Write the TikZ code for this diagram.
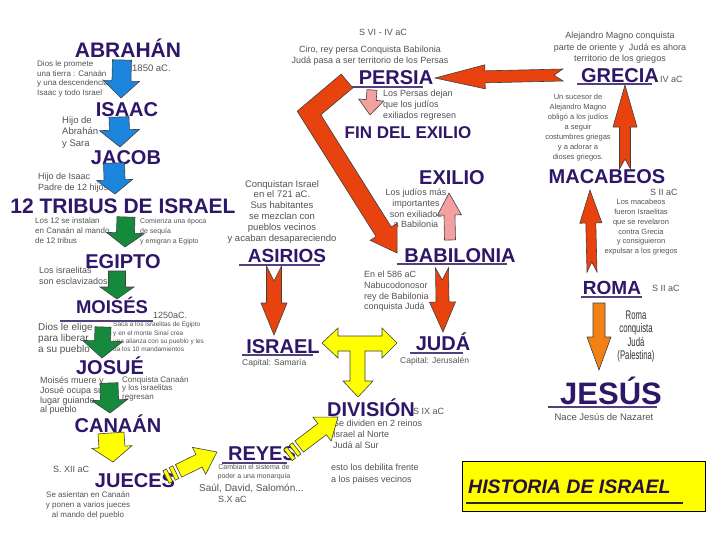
\documentclass[tikz,border=0pt]{standalone}
\usepackage{fontspec}
\setmainfont{Liberation Sans}
\usetikzlibrary{calc}

\definecolor{morado}{RGB}{46,22,104}
\definecolor{gris}{RGB}{82,82,82}
\definecolor{azul}{RGB}{28,134,222}
\definecolor{verde}{RGB}{22,138,60}
\definecolor{amarillo}{RGB}{255,255,0}
\definecolor{rojo}{RGB}{232,66,14}
\definecolor{rosa}{RGB}{245,160,160}
\definecolor{naranja}{RGB}{242,128,20}
\definecolor{linea}{RGB}{84,64,122}

% block arrow: [style]{from}{to}{half shaft}{half head}{head length}{notch}
\newcommand{\bloque}[7][]{%
  \coordinate (hb) at ($(#3)!#6pt!(#2)$);
  \draw[#1] ($(#2)!#4pt!90:(#3)$) -- ($(hb)!#4pt!90:(#3)$) -- ($(hb)!#5pt!90:(#3)$) -- (#3)
    -- ($(hb)!#5pt!-90:(#3)$) -- ($(hb)!#4pt!-90:(#3)$) -- ($(#2)!#4pt!-90:(#3)$)
    -- ($(#2)!#7pt!(#3)$) -- cycle;}
% striped block arrow
\newcommand{\rayada}[6][]{%
  \coordinate (t1) at ($(#2)!4pt!(#3)$);
  \coordinate (t2) at ($(#2)!7pt!(#3)$);
  \coordinate (t3) at ($(#2)!11pt!(#3)$);
  \coordinate (t4) at ($(#2)!14pt!(#3)$);
  \draw[#1] ($(#2)!#4pt!90:(#3)$) -- ($(t1)!#4pt!90:(#3)$) -- ($(t1)!#4pt!-90:(#3)$) -- ($(#2)!#4pt!-90:(#3)$) -- cycle;
  \draw[#1] ($(t2)!#4pt!90:(#3)$) -- ($(t3)!#4pt!90:(#3)$) -- ($(t3)!#4pt!-90:(#3)$) -- ($(t2)!#4pt!-90:(#3)$) -- cycle;
  \bloque[#1]{t4}{#3}{#4}{#5}{#6}{0}}

\tikzset{
  tema/.style={font=\fontsize{20}{24}\selectfont\bfseries, text=morado, inner sep=0pt, anchor=base},
  nota/.style={font=\fontsize{9}{10.8}\selectfont, text=gris, inner sep=0pt, align=left, anchor=north west},
  notac/.style={nota, align=center, anchor=north},
  ulin/.style={draw=linea, line width=1.1pt},
  flecha/.style={draw=black!75, line width=0.6pt, line join=miter},
}

\begin{document}
\begin{tikzpicture}[x=1pt,y=-1pt]
        \useasboundingbox (0,0) rectangle (728,546);
        % left column
        \node[tema, font=\fontsize{21}{24}\selectfont\bfseries] (abrahan) at (128,57) {ABRAHÁN};
        \node[nota, font=\fontsize{8}{9.4}\selectfont] (promesa) at (37,61) {Dios le promete\\una tierra : Canaán\\y una descendencia:\\Isaac y todo Israel};
        \node[nota, font=\fontsize{9.5}{11}\selectfont, anchor=base west] (f1850) at (132,71) {1850 aC.};
        \node[tema] (isaac) at (127,116) {ISAAC};
        \node[nota, font=\fontsize{9.5}{11.5}\selectfont] (hijo1) at (62,116) {Hijo de\\Abrahán\\y Sara};
        \node[tema] (jacob) at (126,164) {JACOB};
        \node[nota] (hijo2) at (38,173) {Hijo de Isaac\\Padre de 12 hijos};
        \node[tema, font=\fontsize{21}{24}\selectfont\bfseries] (tribus) at (123,213) {12 TRIBUS DE ISRAEL};
        \node[nota, font=\fontsize{8}{10}\selectfont] (instalan) at (35,218) {Los 12 se instalan\\en Canaán al mando\\de 12 tribus};
        \node[nota, font=\fontsize{7}{10}\selectfont] (sequia) at (140,218) {Comienza una época\\de sequía\\y emigran a Egipto};
        \node[tema] (egipto) at (123,268) {EGIPTO};
        \node[nota, font=\fontsize{9}{10.5}\selectfont] (esclavos) at (39,267) {Los israelitas\\son esclavizados};
        \node[tema, font=\fontsize{18.5}{22}\selectfont\bfseries] (moises) at (112,313) {MOISÉS};
        \node[nota, anchor=base west] (f1250) at (153,318) {1250aC.};
        \node[nota, font=\fontsize{10}{11}\selectfont] (elige) at (38,323) {Dios le elige\\para liberar\\a su pueblo};
        \node[nota, font=\fontsize{6.5}{8.3}\selectfont] (sinai) at (113,322) {Saca a los israelitas de Egipto\\y en el monte Sinaí crea\\una alianza con su pueblo y les\\da los 10 mandamientos};
        \node[tema] (josue) at (110,374) {JOSUÉ};
        \node[nota, font=\fontsize{9}{9.7}\selectfont] (muere) at (40,377) {Moisés muere y\\Josué ocupa su\\lugar guiando\\al pueblo};
        \node[nota, font=\fontsize{8}{8.8}\selectfont] (conquista) at (122,376) {Conquista Canaán\\y los israelitas\\regresan};
        \node[tema] (canaan) at (118,432) {CANAÁN};
        \node[nota, anchor=base west] (sxii) at (53,472) {S. XII aC};
        \node[tema] (jueces) at (135,487) {JUECES};
        \node[notac, font=\fontsize{8}{10}\selectfont] (asientan) at (88,491) {Se asientan en Canaán\\y ponen a varios jueces\\al mando del pueblo};

        % centre
        \node[tema] (reyes) at (262,460) {REYES};
        \node[notac, font=\fontsize{7}{9}\selectfont] (monarquia) at (254,464) {Cambian el sistema de\\poder a una monarquía};
        \node[nota, font=\fontsize{10}{12}\selectfont, anchor=base west] (saul) at (199,491) {Saúl, David, Salomón...};
        \node[nota, anchor=base west] (sx) at (218,502) {S.X aC};
        \node[tema] (division) at (371,416) {DIVISIÓN};
        \node[nota, anchor=base west] (six) at (413,414) {S IX aC};
        \node[nota, font=\fontsize{9}{11}\selectfont] (reinos) at (333,420) {Se dividen en 2 reinos\\Israel al Norte\\Judá al Sur};
        \node[nota, font=\fontsize{9}{12}\selectfont] (debilita) at (331,464) {esto los debilita frente\\a los paises vecinos};
        \node[tema] (israel) at (283,353) {ISRAEL};
        \node[nota, font=\fontsize{8.5}{10}\selectfont, anchor=base west] (samaria) at (242,365) {Capital: Samaría};
        \node[tema] (juda) at (443,350) {JUDÁ};
        \node[nota, font=\fontsize{8.5}{10}\selectfont, anchor=base west] (jerusalen) at (400,363) {Capital: Jerusalén};
        \node[notac, font=\fontsize{9.5}{10.8}\selectfont] (asirnota) at (282,180) {Conquistan Israel\\en el 721 aC.\\Sus habitantes\\se mezclan con\\pueblos vecinos\\y acaban desapareciendo};
        \node[tema, font=\fontsize{19}{22}\selectfont\bfseries] (asirios) at (287,262) {ASIRIOS};
        \node[tema] (babilonia) at (460,262) {BABILONIA};
        \node[nota, font=\fontsize{9}{10.7}\selectfont] (nabuco) at (364,271) {En el 586 aC\\Nabucodonosor\\rey de Babilonia\\conquista Judá};
        \node[tema] (exilio) at (452,184) {EXILIO};
        \node[notac, font=\fontsize{9}{10.7}\selectfont] (judios) at (416,189) {Los judíos más\\importantes\\son exiliados\\a Babilonia};
        \node[nota, anchor=base] (siglovi) at (383,35) {S VI - IV aC};
        \node[notac, font=\fontsize{9}{11}\selectfont] (ciro) at (370,46) {Ciro, rey persa Conquista Babilonia\\Judá pasa a ser territorio de los Persas};
        \node[tema] (persia) at (396,84) {PERSIA};
        \node[nota, font=\fontsize{9}{11}\selectfont] (dejan) at (383,90) {Los Persas dejan\\que los judíos\\exiliados regresen};
        \node[tema, font=\fontsize{17}{20}\selectfont\bfseries] (fin) at (408,138) {FIN DEL EXILIO};

        % right column
        \node[notac, font=\fontsize{9}{11.5}\selectfont] (alejandro) at (620,32) {Alejandro Magno conquista\\parte de oriente y \ Judá es ahora\\territorio de los griegos};
        \node[tema] (grecia) at (620,82) {GRECIA};
        \node[nota, anchor=base west] (iv) at (660,82) {IV aC};
        \node[notac, font=\fontsize{7.5}{10}\selectfont] (sucesor) at (578,94) {Un sucesor de\\Alejandro Magno\\obligó a los judíos\\a seguir\\costumbres griegas\\y a adorar a\\dioses griegos.};
        \node[tema] (macabeos) at (607,183) {MACABEOS};
        \node[nota, anchor=base west] (sii1) at (650,195) {S II aC};
        \node[notac, font=\fontsize{7.5}{9.8}\selectfont] (macnota) at (641,199) {Los macabeos\\fueron Israelitas\\que se revelaron\\contra Grecia\\y consiguieron\\expulsar a los griegos};
        \node[tema, font=\fontsize{19}{22}\selectfont\bfseries] (roma) at (612,294) {ROMA};
        \node[nota, anchor=base west] (sii2) at (652,291) {S II aC};
        \node[notac, text=gris!60!black] (romanota) at (636,310) {\scalebox{0.62}[1]{\fontsize{12.5}{13.3}\selectfont\begin{tabular}{@{}c@{}}Roma\\conquista\\Judá\\(Palestina)\end{tabular}}};
        \node[tema, font=\fontsize{31}{36}\selectfont\bfseries] (jesus) at (611,404) {JESÚS};
        \node[nota, font=\fontsize{9.5}{11}\selectfont, anchor=base] (nazaret) at (604,420) {Nace Jesús de Nazaret};

        % title
        \node[draw=black, line width=0.8pt, fill=amarillo, minimum width=243pt, minimum height=50pt, inner sep=0pt] (titulo) at (583.5,486) {};
        \node[anchor=base west, inner sep=0pt, font=\fontsize{19.5}{22}\selectfont\bfseries\itshape, text={rgb,255:red,40;green,16;blue,60}] (historia) at (468,493) {HISTORIA DE ISRAEL};
        \draw[line width=2pt, black!85] (466,503) -- (683,503);

        % underlines
        \draw[ulin] (60,321) -- (153,321);
        \draw[ulin] (222,463) -- (287,463);
        \draw[ulin] (242,355) -- (313,355);
        \draw[ulin] (239,265) -- (320,265);
        \draw[ulin] (397,264) -- (507,264);
        \draw[ulin] (410,353) -- (463,353);
        \draw[ulin] (350,87) -- (423,87);
        \draw[ulin] (577,84) -- (652,84);
        \draw[ulin] (581,297) -- (642,297);
        \draw[ulin] (548,407) -- (657,407);

        % arrow ends
        \coordinate (ab1) at (122,60);  \coordinate (ab2) at (121,98);
        \coordinate (is1) at (119,117); \coordinate (is2) at (120,147);
        \coordinate (ja1) at (114,163); \coordinate (ja2) at (115,194);
        \coordinate (tr1) at (126,217); \coordinate (tr2) at (125,247);
        \coordinate (eg1) at (117,271); \coordinate (eg2) at (117,299);
        \coordinate (mo1) at (103,327); \coordinate (mo2) at (102,358);
        \coordinate (jo1) at (109,383); \coordinate (jo2) at (110,413);
        \coordinate (ca1) at (111,433); \coordinate (ca2) at (113,462);
        \coordinate (ju1) at (166,477); \coordinate (ju2) at (217,452);
        \coordinate (re1) at (288,455); \coordinate (re2) at (338,417);
        \coordinate (as1) at (274,266); \coordinate (as2) at (274,335);
        \coordinate (ba1) at (442,268); \coordinate (ba2) at (443,332);
        \coordinate (ba3) at (450,240); \coordinate (ba4) at (449,193);
        \coordinate (pe1) at (372,90);  \coordinate (pe2) at (370,115);
        \coordinate (gr1) at (563,75);  \coordinate (gr2) at (435,78);
        \coordinate (ma1) at (625,169); \coordinate (ma2) at (625,85);
        \coordinate (ro1) at (592,272); \coordinate (ro2) at (590,190);
        \coordinate (ro3) at (599,303); \coordinate (ro4) at (599,370);

        % arrows
        \bloque[flecha, fill=azul]{ab1}{ab2}{9.5}{18}{17}{0}
        \bloque[flecha, fill=azul]{is1}{is2}{10}{20}{17}{0}
        \bloque[flecha, fill=azul]{ja1}{ja2}{10.5}{18}{14}{0}
        \bloque[flecha, fill=verde]{tr1}{tr2}{9}{19}{14}{0}
        \bloque[flecha, fill=verde]{eg1}{eg2}{8.5}{17}{12}{0}
        \bloque[flecha, fill=verde]{mo1}{mo2}{8}{20}{17}{0}
        \bloque[flecha, fill=verde]{jo1}{jo2}{9}{18}{13}{0}
        \bloque[flecha, fill=amarillo]{ca1}{ca2}{13}{20}{15}{0}
        \rayada[flecha, fill=amarillo]{ju1}{ju2}{7}{15}{20}
        \rayada[flecha, fill=amarillo]{re1}{re2}{7}{15}{20}
        \bloque[flecha, fill=rojo]{as1}{as2}{7.5}{13}{32}{15}
        \bloque[flecha, fill=rojo]{ba1}{ba2}{6.5}{13}{30}{12}
        \bloque[flecha, fill=rosa]{ba3}{ba4}{5.5}{12}{22}{0}
        \bloque[flecha, fill=rosa]{pe1}{pe2}{5}{12.5}{15}{0}
        \bloque[flecha, fill=rojo]{gr1}{gr2}{6}{12}{50}{9}
        \bloque[flecha, fill=rojo]{ma1}{ma2}{5.5}{12}{42}{10}
        \bloque[flecha, fill=rojo]{ro1}{ro2}{5}{11}{33}{10}
        \bloque[flecha, fill=naranja]{ro3}{ro4}{6}{12}{33}{0}

        % persia to babilonia
        \draw[flecha, fill=rojo] (341.2,74.1) -- (352.8,87.9) -- (320.8,114.8) -- (391.3,227.0) -- (397.2,223.3)
          -- (397,253) -- (370.2,240.3) -- (376.1,236.6) -- (297.2,111.2) -- cycle;
        % division to israel and juda
        \draw[flecha, fill=amarillo] (322,343) -- (338,328) -- (338,336) -- (382,336) -- (382,328) -- (397,343)
          -- (382,358) -- (382,351) -- (365,351) -- (365,381) -- (373,381) -- (358,397) -- (343,381)
          -- (350,381) -- (350,351) -- (338,351) -- (338,358) -- cycle;
\end{tikzpicture}
\end{document}
